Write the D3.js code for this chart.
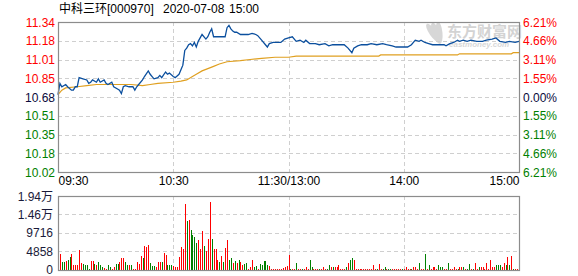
<!DOCTYPE html>
<html>
<head>
<meta charset="utf-8">
<script src="https://cdn.jsdelivr.net/npm/d3@7"></script>
<style>
body { margin: 0; background: #fff; }
text { font-family: "Liberation Sans", Arial, "Noto Sans CJK SC", sans-serif; font-size: 12px; }
</style>
</head>
<body>
<script>
// page and plot boxes
var W = 578, H = 276;
var left = 58, right = 519;
var priceTop = 22, priceBottom = 172;
var volTop = 196, volBottom = 269.5;

var titleParts = ['中科三环[000970]', '2020-07-08', '15:00'];
var prevClose = 10.68;

// axis labels
var timeTicks = [0, 60, 120, 180, 240];
var timeLabels = ['09:30', '10:30', '11:30/13:00', '14:00', '15:00'];
var priceLabels = ['11.34', '11.18', '11.01', '10.85', '10.68', '10.51', '10.35', '10.18', '10.02'];
var pctLabels = ['6.21%', '4.66%', '3.11%', '1.55%', '0.00%', '1.55%', '3.11%', '4.66%', '6.21%'];
var volLabels = ['1.94万', '1.46万', '9716', '4858', '0'];
var volMax = 19432;

// price line (minute index, price)
var priceMinutes = [0,1,2,4,5,7,8,9,10,11,13,15,16,17,18,20,21,22,24,25,26,28,29,31,32,33,34,35,37,39,
	40,41,42,44,45,47,48,49,50,52,53,54,56,57,58,60,61,63,64,65,66,67,68,69,70,71,72,73,74,75,
	77,78,79,80,81,82,84,87,88,89,90,91,92,93,95,96,99,101,103,104,106,108,109,110,112,115,116,118,120,122,
	124,126,128,129,131,134,136,139,141,143,146,149,151,153,154,156,158,161,163,166,169,171,174,176,179,182,184,186,188,189,
	191,193,195,198,201,202,204,206,208,209,211,213,215,218,221,223,226,228,230,233,235,238,240];
var priceValues = [10.70,10.80,10.77,10.79,10.77,10.74,10.74,10.77,10.77,10.85,10.84,10.83,10.80,10.81,10.83,10.81,10.84,10.81,10.83,10.80,10.79,10.81,10.77,10.75,10.74,10.71,10.77,10.78,10.77,10.77,
	10.74,10.77,10.79,10.83,10.86,10.91,10.88,10.86,10.84,10.85,10.87,10.85,10.90,10.88,10.89,10.86,10.85,10.88,10.92,10.96,11.09,11.11,11.14,11.15,11.13,11.16,11.12,11.17,11.20,11.23,
	11.19,11.21,11.25,11.28,11.21,11.21,11.21,11.21,11.29,11.31,11.28,11.26,11.25,11.25,11.23,11.23,11.23,11.24,11.23,11.22,11.18,11.14,11.12,11.15,11.16,11.16,11.16,11.19,11.20,11.21,
	11.17,11.18,11.16,11.18,11.15,11.15,11.14,11.15,11.13,11.14,11.14,11.14,11.11,11.07,11.11,11.13,11.14,11.14,11.15,11.14,11.15,11.14,11.13,11.12,11.12,11.12,11.14,11.18,11.17,11.18,
	11.16,11.15,11.14,11.14,11.14,11.13,11.15,11.16,11.18,11.17,11.18,11.17,11.18,11.17,11.17,11.18,11.19,11.20,11.17,11.16,11.17,11.16,11.17];

// average price line
var avgMinutes = [0,2,4,10,15,20,30,38,44,48,52,60,64,67,70,72,75,78,81,84,88,95,100,106,113,120,124,167,168,208,209,236,237,240];
var avgValues = [10.70,10.74,10.76,10.77,10.78,10.79,10.79,10.79,10.78,10.79,10.80,10.81,10.82,10.83,10.86,10.88,10.91,10.93,10.95,10.97,10.99,11.00,11.01,11.02,11.03,11.03,11.04,11.04,11.05,11.05,11.06,11.06,11.07,11.07];

// volume per minute, and direction (1 up / -1 down)
var volumes = [1320,4200,2000,2000,2200,2550,3340,4140,1320,1060,1140,5190,1760,1580,1060,1320,260,2290,2290,1580,
	1320,2020,1140,790,440,260,1320,790,260,790,1500,1500,1940,3170,3170,1940,1140,1320,1320,260,
	260,1940,1580,3700,3080,6340,6070,6600,1760,880,880,700,2110,2110,2020,4400,3960,1320,1320,1320,
	880,700,700,3260,6070,5540,17420,12940,13200,10560,9060,8540,7040,7920,5540,10300,6160,4840,8180,17870,
	8180,5540,5540,2640,2020,3520,2020,5810,7920,2380,3080,1760,2290,1760,2550,1940,1320,1410,1670,260,
	700,2640,700,970,260,1580,1320,2290,2290,1320,880,260,260,260,260,260,260,350,530,880,
	3780,260,260,260,1850,260,260,260,260,530,260,2640,530,260,260,260,260,260,530,260,
	260,1060,530,790,790,610,1060,260,260,260,530,1850,2640,3170,2380,260,260,260,260,260,
	260,260,260,260,1060,260,260,1580,260,260,790,260,260,260,260,260,260,260,260,260,
	260,530,260,260,260,790,790,260,1850,260,260,4220,260,1320,260,530,530,260,1060,530,
	530,260,260,1850,260,260,530,260,260,790,530,790,260,260,1580,260,260,1850,260,790,
	790,790,260,1850,260,2640,530,530,1320,1060,1060,790,1850,1060,3430,1320,3700,260,260,260,
	2380];
var volumeDir = [1,1,-1,-1,1,-1,-1,1,1,1,1,1,1,-1,-1,-1,-1,1,1,-1,
	1,-1,-1,-1,1,1,-1,-1,1,1,-1,-1,1,1,1,-1,-1,1,-1,1,
	1,1,1,1,-1,1,1,1,-1,-1,-1,1,1,1,-1,1,1,-1,-1,-1,
	1,1,1,1,1,1,1,-1,1,-1,-1,-1,-1,1,1,1,-1,1,1,1,
	-1,1,1,1,-1,1,-1,1,1,-1,-1,1,-1,1,-1,1,1,-1,-1,1,
	1,1,-1,-1,1,-1,-1,-1,-1,-1,1,1,1,1,1,1,1,1,1,1,
	1,-1,1,1,-1,1,1,-1,1,1,1,-1,-1,1,1,1,-1,1,1,1,
	-1,-1,1,-1,1,1,1,1,1,1,-1,1,-1,-1,1,1,1,1,1,1,
	1,1,1,1,1,1,-1,1,1,-1,-1,1,-1,-1,1,1,1,1,1,-1,
	1,1,1,1,-1,1,1,1,-1,1,1,-1,1,-1,1,1,1,1,-1,-1,
	-1,1,1,-1,1,1,1,1,-1,1,1,-1,1,-1,-1,1,-1,1,1,-1,
	1,1,1,1,1,1,1,1,-1,-1,-1,1,1,-1,1,-1,1,-1,1,1,
	1];

var RED = '#ff0000', GREEN = '#008000', NAVY = '#0a0a3c';
function levelColor(i, n){
	var mid = (n - 1) / 2;
	return i < mid ? RED : (i == mid ? NAVY : GREEN);
}

var svg = d3.select('body').append('svg')
	.attr('width', W).attr('height', H);

var x = d3.scaleLinear().domain([0, 240]).range([left, right]);
var y = d3.scaleLinear().domain([10.02, 11.34]).range([priceBottom, priceTop]);
var yLevels = d3.scalePoint().domain(d3.range(priceLabels.length)).range([priceTop, priceBottom]);
var yVol = d3.scaleLinear().domain([0, volMax]).range([volBottom, volTop]);
var yVolLevels = d3.scalePoint().domain(d3.range(volLabels.length)).range([volTop, volBottom]);

// title, in three pieces like the original spacing
var titleX = [59, 163, 229];
svg.append('g').selectAll('text')
	.data(titleParts)
	.enter()
	.append('text')
	.attr('x', function(d, i){ return titleX[i]; })
	.attr('y', 13)
	.attr('fill', '#000')
	.text(function(d){ return d; });

// watermark
var wm = svg.append('g').attr('opacity', 0.55);
[[-35, 0], [-20, 3], [-5, 6]].forEach(function(r){
	wm.append('ellipse').attr('cx', 433 + r[1]).attr('cy', 33).attr('rx', 3.5).attr('ry', 11)
		.attr('transform', 'rotate(' + r[0] + ',' + (433 + r[1]) + ',33)').attr('fill', '#b8b8b8');
});
wm.append('text').attr('x', 447).attr('y', 37).attr('fill', '#b0b0b0')
	.style('font-size', '15px').style('font-weight', 'bold')
	.style('font-family', '"Noto Sans CJK SC", sans-serif').text('东方财富网');
wm.append('text').attr('x', 449).attr('y', 47).attr('fill', '#b8b8b8')
	.style('font-size', '8px').style('font-style', 'italic').style('font-weight', 'bold').text('eastmoney.com');

// grids
var grid = svg.append('g').attr('stroke', '#cfcfcf').attr('stroke-dasharray', '4,3').attr('shape-rendering', 'crispEdges');
d3.range(1, priceLabels.length - 1).forEach(function(i){
	grid.append('line').attr('x1', left).attr('x2', right)
		.attr('y1', Math.round(yLevels(i)) + 0.5).attr('y2', Math.round(yLevels(i)) + 0.5);
});
d3.range(1, volLabels.length - 1).forEach(function(i){
	grid.append('line').attr('x1', left).attr('x2', right)
		.attr('y1', Math.round(yVolLevels(i)) + 0.5).attr('y2', Math.round(yVolLevels(i)) + 0.5);
});
timeTicks.slice(1, -1).forEach(function(t){
	var gx = Math.round(x(t)) + 0.5;
	grid.append('line').attr('x1', gx).attr('x2', gx).attr('y1', priceTop).attr('y2', priceBottom);
	grid.append('line').attr('x1', gx).attr('x2', gx).attr('y1', volTop).attr('y2', volBottom);
});

// volume bars
svg.append('g').attr('shape-rendering', 'crispEdges')
	.selectAll('rect')
	.data(volumes)
	.enter()
	.append('rect')
	.attr('x', function(d, i){ return Math.round(x(i)); })
	.attr('width', 1)
	.attr('y', function(d){ return yVol(d); })
	.attr('height', function(d){ return volBottom - yVol(d); })
	.attr('fill', function(d, i){ return volumeDir[i] > 0 ? RED : GREEN; });

// average + price lines
var line = d3.line()
	.x(function(d){ return x(d[0]); })
	.y(function(d){ return y(d[1]); });

svg.append('path')
	.datum(d3.zip(avgMinutes, avgValues))
	.attr('d', line)
	.attr('fill', 'none').attr('stroke', '#e0a020').attr('stroke-width', 1.2);

svg.append('path')
	.datum(d3.zip(priceMinutes, priceValues))
	.attr('d', line)
	.attr('fill', 'none').attr('stroke', '#0b4f9e').attr('stroke-width', 1.3);

// frames
[[priceTop, priceBottom], [volTop, volBottom]].forEach(function(b){
	svg.append('rect')
		.attr('x', left + 0.5).attr('y', Math.round(b[0]) + 0.5)
		.attr('width', right - left).attr('height', Math.round(b[1]) - Math.round(b[0]))
		.attr('fill', 'none').attr('stroke', '#8c8c8c').attr('stroke-width', 1.2);
});

// left price labels
svg.append('g').selectAll('text')
	.data(priceLabels)
	.enter()
	.append('text')
	.attr('x', 55)
	.attr('y', function(d, i){ return yLevels(i) + 4.5; })
	.attr('text-anchor', 'end')
	.attr('fill', function(d, i){ return levelColor(i, priceLabels.length); })
	.text(function(d){ return d; });

// right percent labels
svg.append('g').selectAll('text')
	.data(pctLabels)
	.enter()
	.append('text')
	.attr('x', 523)
	.attr('y', function(d, i){ return yLevels(i) + 4.5; })
	.attr('fill', function(d, i){ return levelColor(i, pctLabels.length); })
	.text(function(d){ return d; });

// volume labels
svg.append('g').selectAll('text')
	.data(volLabels)
	.enter()
	.append('text')
	.attr('x', 53)
	.attr('y', function(d, i){ return yVolLevels(i) + 4.5; })
	.attr('text-anchor', 'end')
	.attr('fill', '#1a1a3a')
	.text(function(d){ return d; });

// time axis
var xAxis = d3.axisBottom(x)
	.tickValues(timeTicks)
	.tickFormat(function(d, i){ return timeLabels[i]; })
	.tickSize(0)
	.tickPadding(0);

var gx = svg.append('g')
	.attr('transform', 'translate(0,' + (priceBottom + 4) + ')')
	.call(xAxis);
gx.select('.domain').remove();
gx.selectAll('text')
	.attr('fill', '#000')
	.style('font-size', '12px')
	.attr('dy', '0.71em')
	.attr('text-anchor', function(d, i){ return i == 0 ? 'start' : (i == timeTicks.length - 1 ? 'end' : 'middle'); });
</script>
</body>
</html>
